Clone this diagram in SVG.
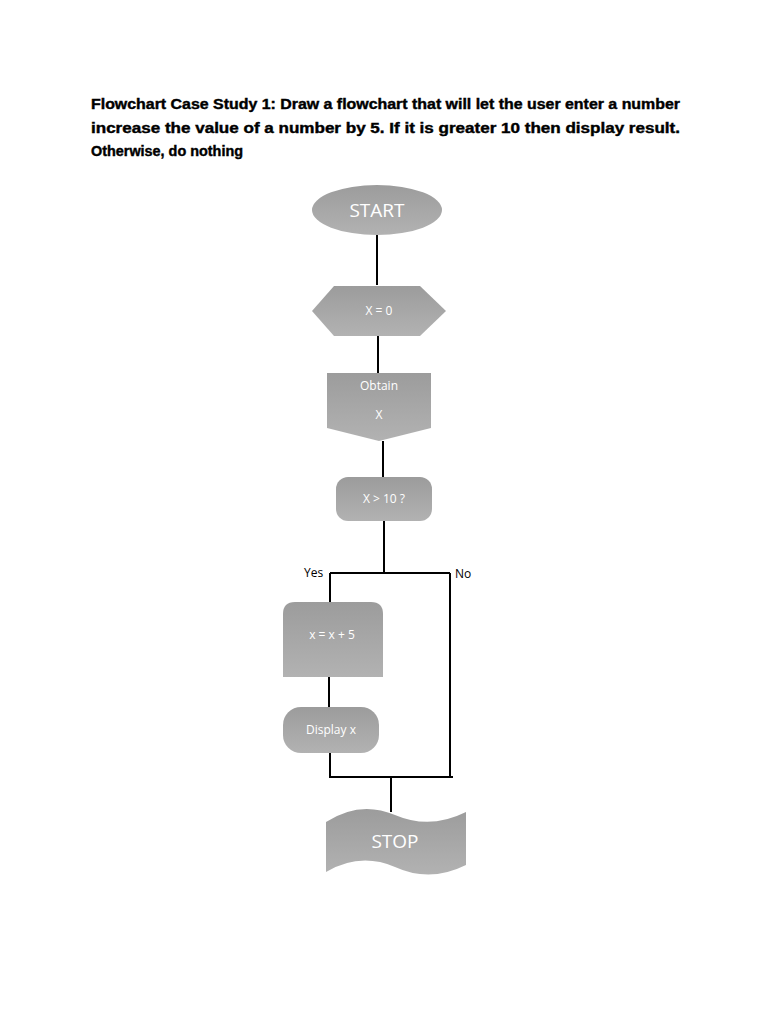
<svg xmlns="http://www.w3.org/2000/svg" width="768" height="1024" viewBox="0 0 768 1024">
<defs>
<linearGradient id="g" x1="0" y1="0" x2="0" y2="1"><stop offset="0" stop-color="#9c9c9c"/><stop offset="1" stop-color="#b2b2b2"/></linearGradient>
</defs>
<style>
.n{fill:url(#g);}
.t{font-family:"Open Sans","Liberation Sans",sans-serif;fill:#fff;text-anchor:middle;}
.c{stroke:#000;stroke-width:2;fill:none;}
.h{font-family:"Liberation Sans",Arial,sans-serif;font-weight:bold;font-size:14px;fill:#000;stroke:#000;stroke-width:0.4;}
.l{font-family:"Open Sans","Liberation Sans",sans-serif;font-size:12px;fill:#000;}
</style>
<rect width="768" height="1024" fill="#fff"/>
<text class="h" x="91" y="109" textLength="589" lengthAdjust="spacingAndGlyphs">Flowchart Case Study 1: Draw a flowchart that will let the user enter a number</text>
<text class="h" x="91" y="133" textLength="589" lengthAdjust="spacingAndGlyphs">increase the value of a number by 5. If it is greater 10 then display result.</text>
<text class="h" x="91" y="156" textLength="152" lengthAdjust="spacingAndGlyphs">Otherwise, do nothing</text>
<g id="connectors">
<path class="c" d="M377 235V285M378 336V373M383 441V477M384 521V573M330 573H450M330 573V602M450 573V776M329 677V707M330 753V777M329 777H453M391 777V812"/>
</g>
<g id="start"><ellipse class="n" cx="377" cy="210" rx="65" ry="25"/><text class="t" x="377" y="217" font-size="19">START</text></g>
<g id="init"><polygon class="n" points="312,311 334,286 420,286 446,311 420,336 334,336"/><text class="t" x="379" y="315" font-size="12">X = 0</text></g>
<g id="obtain"><polygon class="n" points="327,373 431,373 431,428 379,441 327,428"/><text class="t" x="379" y="390" font-size="12">Obtain</text><text class="t" x="379" y="419" font-size="12">X</text></g>
<g id="decision"><rect class="n" x="336" y="477" width="96" height="44" rx="12"/><text class="t" x="384" y="503" font-size="12">X &gt; 10 ?</text></g>
<text class="l" x="304" y="577">Yes</text>
<text class="l" x="455" y="578">No</text>
<g id="inc"><path class="n" d="M283 677V614Q283 602 295 602H371Q383 602 383 614V677Z"/><text class="t" x="332" y="639" font-size="12">x = x + 5</text></g>
<g id="display"><rect class="n" x="283" y="707" width="96" height="46" rx="18"/><text class="t" x="331" y="734" font-size="12">Display x</text></g>
<g id="stop"><path class="n" d="M326 822Q360 800 395 815Q430 830 466 812V865Q430 883 395 867Q360 852 326 872Z"/><text class="t" x="395" y="848" font-size="19">STOP</text></g>
</svg>
